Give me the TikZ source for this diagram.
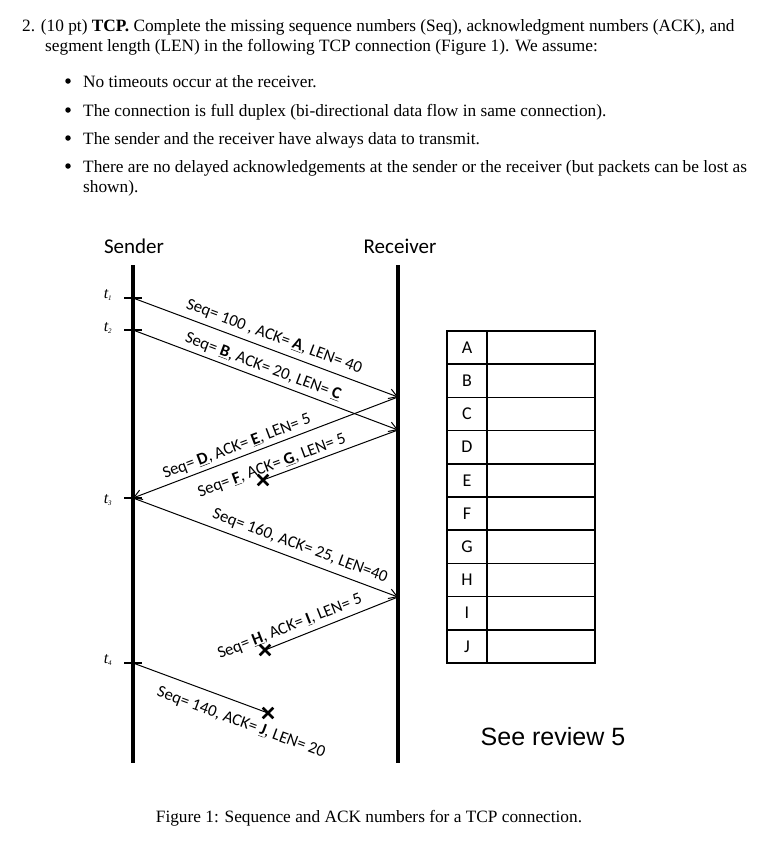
\documentclass[tikz,border=0pt]{standalone}
\usepackage{fontspec}
\setmainfont{Liberation Serif}
\newfontfamily\calfont{Carlito}
\newfontfamily\arialfont{Liberation Sans}
\usetikzlibrary{arrows.meta,shapes.misc}
\begin{document}
\begin{tikzpicture}[x=1pt,y=-1pt]
\tikzset{
 body/.style={font=\fontsize{17.3}{20}\selectfont, inner sep=0pt, anchor=base west},
 bul/.style={circle, fill, inner sep=0pt, minimum size=5.5pt},
 lifeline/.style={line width=3.5pt},
 tickmark/.style={line width=2.5pt},
 msg/.style={line width=1pt, -{Straight Barb[length=8pt,width=10pt]}},
 lost/.style={line width=1pt},
 lbl/.style={font=\calfont\fontsize{16.7}{18}\selectfont, inner sep=0pt},
 tlbl/.style={font=\itshape\fontsize{16}{17}\selectfont, inner sep=0pt},
 xmark/.style={cross out, draw, line width=2.6pt, minimum size=8pt, inner sep=0pt},
 cell/.style={draw, line width=1.5pt, minimum height=33.2pt, inner sep=0pt, font=\calfont\fontsize{18}{20}\selectfont},
 head/.style={font=\calfont\fontsize{21}{24}\selectfont, inner sep=0pt}
}
\useasboundingbox (0,0) rectangle (757,849);

% text
\node[body] (q1) at (22,31) {2. (10 pt) \textbf{TCP.} Complete the missing sequence numbers (Seq), acknowledgment numbers (ACK), and};
\node[body] (q2) at (45,51) {segment length (LEN) in the following TCP connection (Figure 1). We assume:};
\foreach \y/\t [count=\i] in {87/{No timeouts occur at the receiver.},116/{The connection is full duplex (bi-directional data flow in same connection).},144/{The sender and the receiver have always data to transmit.},172/{There are no delayed acknowledgements at the sender or the receiver (but packets can be lost as}}{
  \node[bul] (b\i) at (68,\y-6) {};
  \node[body] (bt\i) at (83,\y) {\t};
}
\node[body] (b5) at (83,192) {shown).};

% headers
\node[head] (snd) at (134,246) {Sender};
\node[head] (rcv) at (400,246) {Receiver};

% lifelines
\coordinate (s0) at (133,265); \coordinate (s1) at (133,763);
\coordinate (r0) at (398,265); \coordinate (r1) at (398,763);
\draw[lifeline] (s0) -- (s1);
\draw[lifeline] (r0) -- (r1);

% time points
\coordinate (T1) at (133,298); \coordinate (T2) at (133,330);
\coordinate (T3) at (133,498); \coordinate (T4) at (133,663);
\coordinate (R1) at (398,397); \coordinate (R2) at (398,430);
\coordinate (R3) at (398,597);
\foreach \c in {T1,T2,T3,T4}{
  \draw[tickmark] ([xshift=-9pt]\c) -- ([xshift=9pt]\c);
}
\node[tlbl] (lt1) at (108,295) {t\textsubscript{\fontsize{7}{7}\selectfont 1}};
\node[tlbl] (lt2) at (108,328) {t\textsubscript{\fontsize{7}{7}\selectfont 2}};
\node[tlbl] (lt3) at (108,500) {t\textsubscript{\fontsize{7}{7}\selectfont 3}};
\node[tlbl] (lt4) at (108,660) {t\textsubscript{\fontsize{7}{7}\selectfont 4}};

% crosses
\node[xmark] (X1) at (263,480) {};
\node[xmark] (X2) at (265,650) {};
\node[xmark] (X3) at (268,713) {};

% messages
\draw[msg] (T1) -- (R1);
\draw[msg] (T2) -- (R2);
\draw[msg] (R1) -- (T3);
\draw[lost] (R2) -- (X1.center);
\draw[msg] (T3) -- (R3);
\draw[lost] (R3) -- (X2.center);
\draw[lost] (T4) -- (X3.center);

% labels
\node[lbl, rotate=-20.5] (m1) at (274,337) {Seq= 100 ,\ ACK= \underline{\textbf{A}}, LEN= 40};
\node[lbl, rotate=-20.6] (m2) at (263,367) {Seq= \underline{\textbf{B}},\ ACK= 20, LEN= \underline{\textbf{C}}};
\node[lbl, rotate=20.8] (m3) at (237,447) {Seq= \underline{\textbf{D}},\ ACK= \underline{\textbf{E}}, LEN= 5};
\node[lbl, rotate=20.5] (m4) at (272,466) {Seq= \underline{\textbf{F}},\ ACK= \underline{\textbf{G}}, LEN= 5};
\node[lbl, rotate=-20.5] (m5) at (300,546) {Seq= 160,\ ACK= 25, LEN=40};
\node[lbl, rotate=21.5] (m6) at (290,627) {Seq= \underline{\textbf{H}},\ ACK= \underline{\textbf{I}}, LEN= 5};
\node[lbl, rotate=-20.3] (m7) at (241,723) {Seq= 140,\ ACK= \underline{\textbf{J}}, LEN= 20};

% table
\foreach \l [count=\i from 0] in {A,B,C,D,E,F,G,H,I,J}{
  \node[cell, minimum width=40pt] (L\l) at (467,{331+33.2*(\i+0.5)}) {\l};
  \node[cell, minimum width=108pt] (V\l) at (541,{331+33.2*(\i+0.5)}) {};
}

\node[font=\arialfont\fontsize{25}{28}\selectfont, inner sep=0pt] (rev) at (553,737) {See review 5};

\node[body, anchor=base] (cap) at (369,822) {Figure 1: Sequence and ACK numbers for a TCP connection.};
\end{tikzpicture}
\end{document}
